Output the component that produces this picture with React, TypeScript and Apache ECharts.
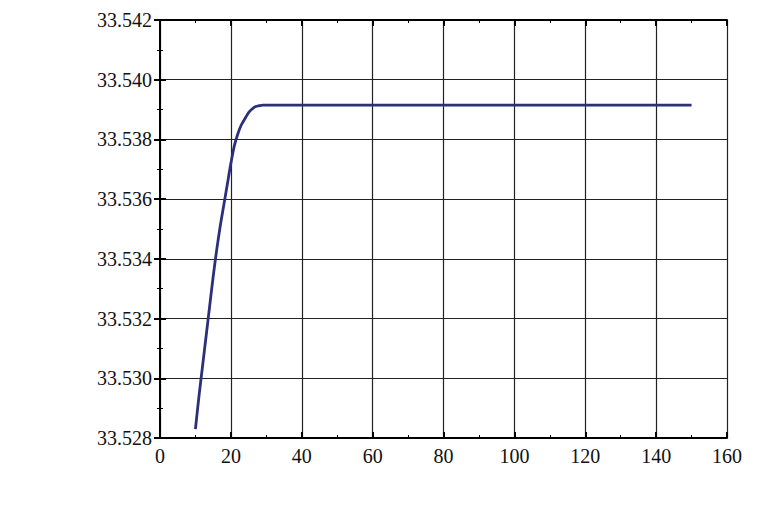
import React, { useEffect, useRef } from "react";
import * as echarts from "echarts";

const xValues = [10, 11, 12, 13, 14, 15, 16, 17, 18, 19, 20, 21, 22, 23, 24, 25, 26, 27, 28, 29, 30, 40, 60, 80, 100, 120, 140, 150];
const yValues = [
  33.5283, 33.5294, 33.5304, 33.5314, 33.5324, 33.5334, 33.5343, 33.5351, 33.5358, 33.5365, 33.5372,
  33.5378, 33.5382, 33.5385, 33.5387, 33.5389, 33.53902, 33.5391, 33.53913, 33.53915, 33.53915,
  33.53915, 33.53915, 33.53915, 33.53915, 33.53915, 33.53915, 33.53915,
];
const xTicks = { min: 0, max: 160, interval: 20 };
const yTicks = { min: 33.528, max: 33.542, interval: 0.002 };

export default function App() {
  const ref = useRef<HTMLDivElement>(null);
  useEffect(() => {
    if (!ref.current) return;
    const chart = echarts.init(ref.current, undefined, { renderer: "svg" });
    const font = "Liberation Serif";
    const common = {
      axisLine: { show: true, lineStyle: { color: "#000", width: 2 } },
      axisTick: { show: true, inside: true, length: 6, lineStyle: { color: "#000", width: 2 } },
      minorTick: { show: true, splitNumber: 2, length: 3, lineStyle: { color: "#000", width: 1 } },
    };
    chart.setOption({
      animation: false,
      backgroundColor: "#fff",
      grid: { left: 152, top: 12, right: 49, bottom: 70, containLabel: false },
      xAxis: [
        {
          type: "value",
          position: "bottom",
          ...xTicks,
          ...common,
          axisLabel: { color: "#111", fontFamily: font, fontSize: 20, margin: 8 },
          splitLine: { show: true, lineStyle: { color: "#222", width: 1.2 } },
        },
        {
          type: "value",
          position: "top",
          ...xTicks,
          ...common,
          axisLabel: { show: false },
          splitLine: { show: false },
        },
      ],
      yAxis: [
        {
          type: "value",
          position: "left",
          ...yTicks,
          ...common,
          axisLabel: {
            color: "#111",
            fontFamily: font,
            fontSize: 20,
            margin: 8,
            formatter: (v: number) => v.toFixed(3),
          },
          splitLine: { show: true, lineStyle: { color: "#222", width: 1.2 } },
        },
        {
          type: "value",
          position: "right",
          ...yTicks,
          ...common,
          axisLabel: { show: false },
          splitLine: { show: false },
        },
      ],
      series: [
        {
          type: "line",
          data: xValues.map((x, i) => [x, yValues[i]]),
          smooth: 0.3,
          showSymbol: false,
          lineStyle: { color: "#2c2f7c", width: 2.8 },
          xAxisIndex: 0,
          yAxisIndex: 0,
        },
      ],
    });
    return () => chart.dispose();
  }, []);
  return <div ref={ref} style={{ width: 768, height: 500 }} />;
}
